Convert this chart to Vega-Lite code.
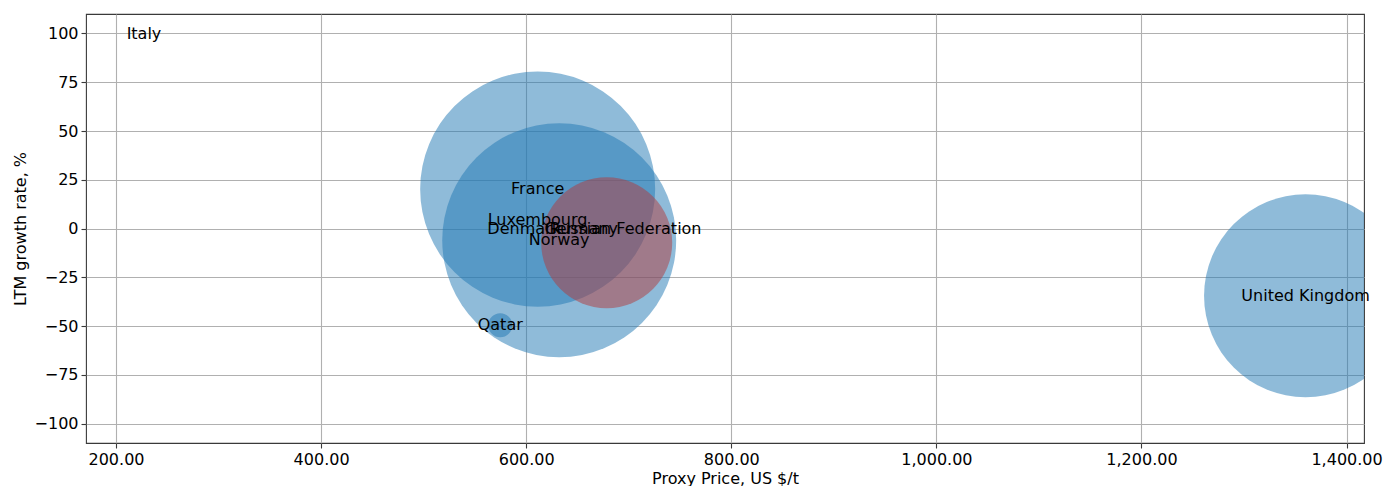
{
  "$schema": "https://vega.github.io/schema/vega-lite/v6.json",
  "autosize": {"type": "none"},
  "padding": {"left": 86, "top": 14, "right": 22, "bottom": 43},
  "width": 1278,
  "height": 429,
  "config": {
    "view": {"stroke": "#3a3a3a", "strokeWidth": 1.1},
    "axis": {
      "labelFont": "DejaVu Sans",
      "labelFontSize": 16,
      "labelColor": "#000000",
      "titleFont": "DejaVu Sans",
      "titleFontSize": 16,
      "titleFontWeight": "normal",
      "titleColor": "#000000",
      "grid": true,
      "gridColor": "#b0b0b0",
      "gridWidth": 1.1,
      "domain": false,
      "tickColor": "#3a3a3a",
      "tickSize": 5,
      "tickWidth": 1.1,
      "labelPadding": 3
    }
  },
  "data": {
    "values": [
      {"country": "Italy", "price": 227.3, "growth": 100, "volume": 0, "group": "other"},
      {"country": "France", "price": 611.2, "growth": 20.2, "volume": 100, "group": "other"},
      {"country": "Luxembourg", "price": 611.1, "growth": 4.3, "volume": 0, "group": "other"},
      {"country": "Denmark", "price": 598, "growth": 0, "volume": 0, "group": "other"},
      {"country": "Germany", "price": 653.6, "growth": 0, "volume": 0, "group": "other"},
      {"country": "Russian Federation", "price": 696.9, "growth": 0, "volume": 0, "group": "other"},
      {"country": "Norway", "price": 632.2, "growth": -6.0, "volume": 99.1, "group": "other"},
      {"country": "Qatar", "price": 574.7, "growth": -49.6, "volume": 1.04, "group": "other"},
      {"country": "United Kingdom", "price": 1360, "growth": -34.5, "volume": 74.6, "group": "other"},
      {"country": "", "price": 678.5, "growth": -7.3, "volume": 31.1, "group": "highlight"}
    ]
  },
  "encoding": {
    "x": {
      "field": "price",
      "type": "quantitative",
      "scale": {"domain": [170.75, 1417], "nice": false, "zero": false},
      "axis": {
        "title": "Proxy Price, US $/t",
        "format": ",.2f",
        "values": [200, 400, 600, 800, 1000, 1200, 1400],
        "titlePadding": 3
      }
    },
    "y": {
      "field": "growth",
      "type": "quantitative",
      "scale": {"domain": [-110, 110], "nice": false, "zero": false},
      "axis": {
        "title": "LTM growth rate, %",
        "format": "d",
        "values": [-100, -75, -50, -25, 0, 25, 50, 75, 100],
        "titlePadding": 6
      }
    }
  },
  "layer": [
    {
      "mark": {"type": "circle", "opacity": 0.5, "strokeWidth": 0, "clip": true},
      "encoding": {
        "size": {
          "field": "volume",
          "type": "quantitative",
          "scale": {"domain": [0, 100], "range": [0, 55225]},
          "legend": null
        },
        "color": {
          "field": "group",
          "type": "nominal",
          "scale": {"domain": ["other", "highlight"], "range": ["#1f77b4", "#b1393b"]},
          "legend": null
        }
      }
    },
    {
      "mark": {
        "type": "text",
        "font": "DejaVu Sans",
        "fontSize": 16,
        "color": "#000000",
        "align": "center",
        "baseline": "middle"
      },
      "encoding": {
        "text": {"field": "country", "type": "nominal"}
      }
    }
  ]
}
